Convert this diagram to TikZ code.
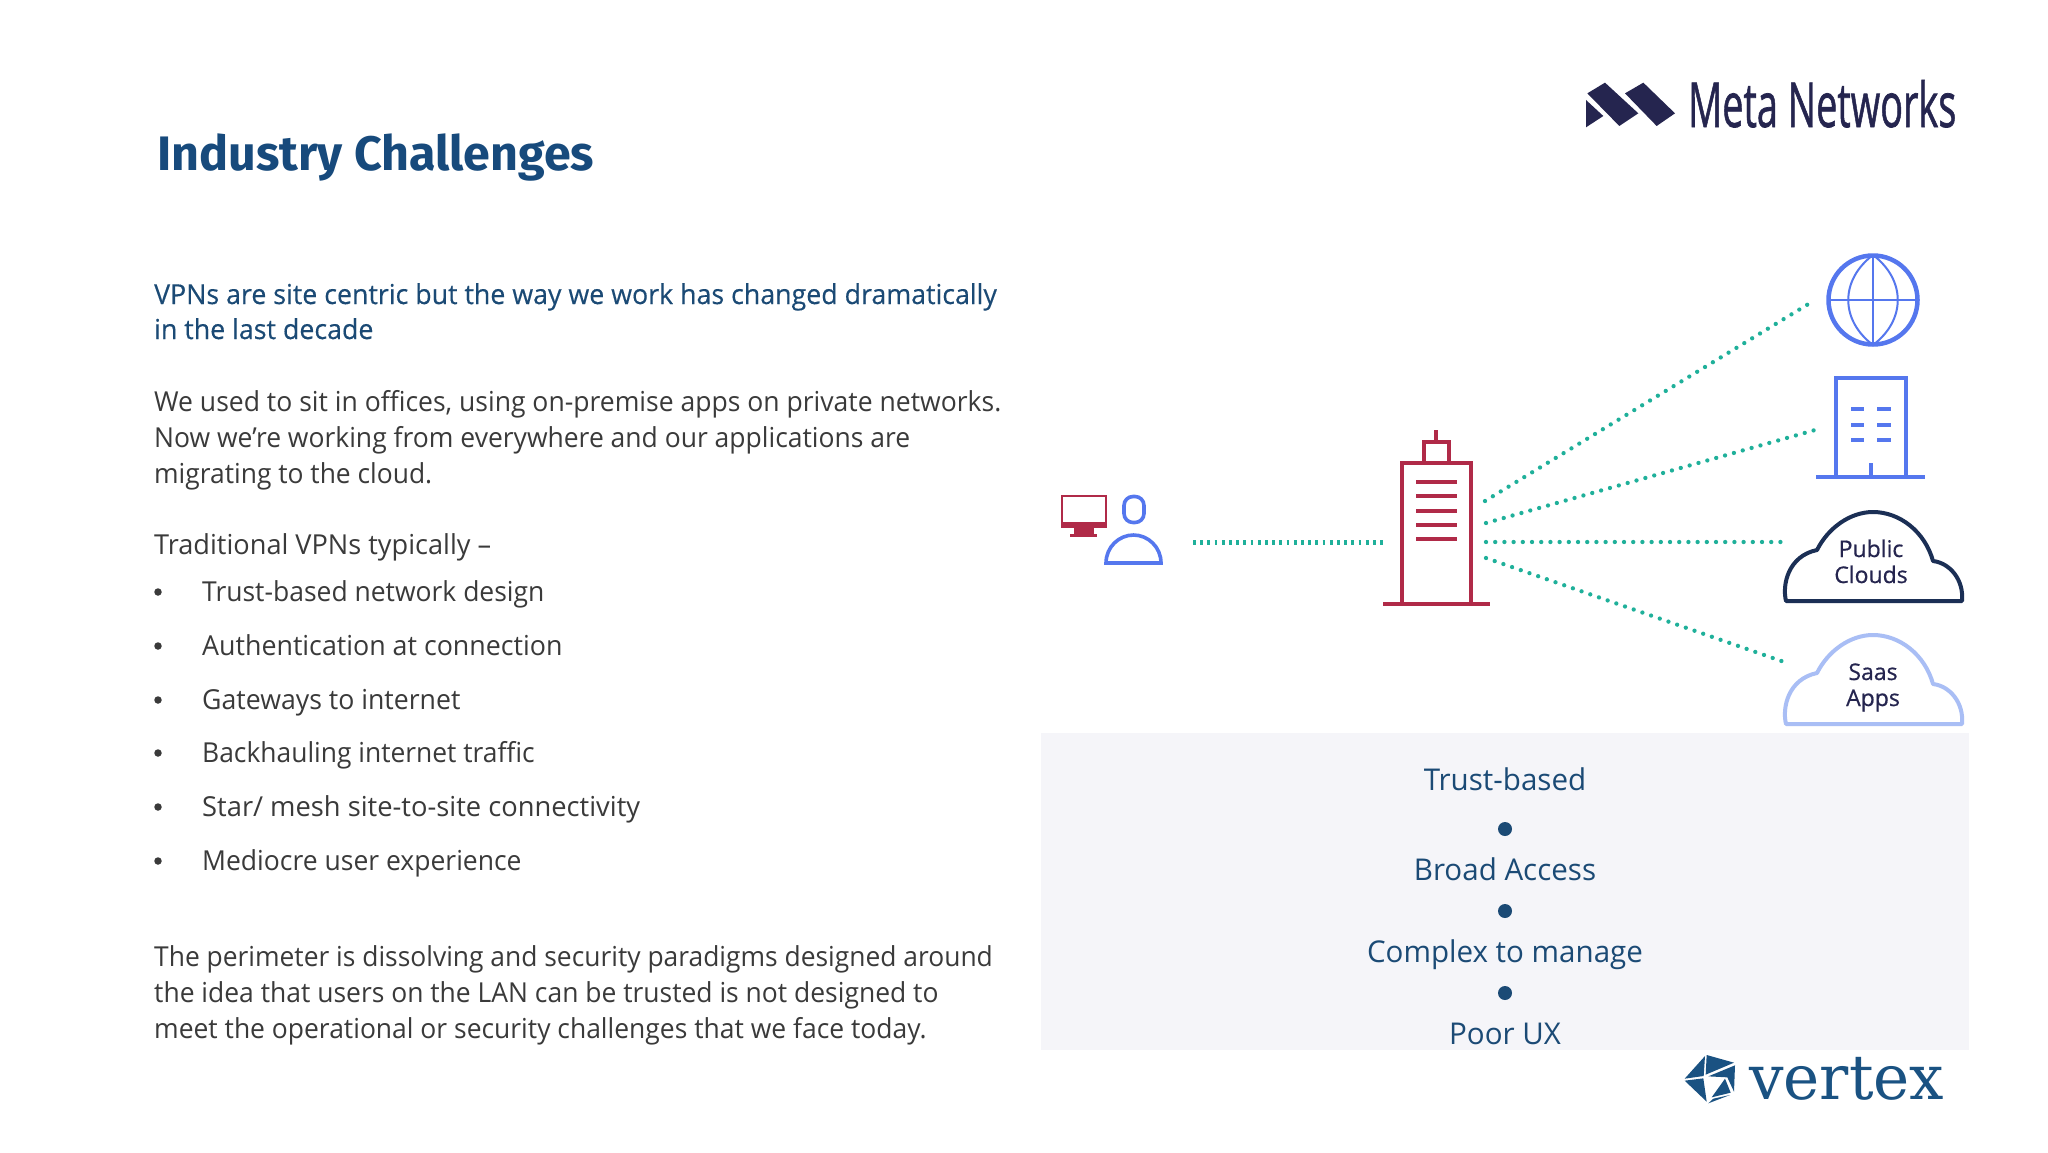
\documentclass[tikz,border=0pt]{standalone}
\usepackage{fontspec}
\setmainfont{Open Sans}
\newfontfamily\titlefont{Fira Sans}
\newfontfamily\vertexfont{DejaVu Serif}
\newfontfamily\metafont[FakeBold=1.2]{Open Sans}
\newfontfamily\cloudfont[FakeBold=0.6]{Open Sans}
\newfontfamily\leadfont[FakeBold=0.3]{Open Sans}
\definecolor{titleblue}{HTML}{174A7C}
\definecolor{leadblue}{HTML}{1B4A75}
\definecolor{bodygrey}{HTML}{3A3A3A}
\definecolor{panelgrey}{HTML}{F5F5F9}
\definecolor{teal}{HTML}{1FB09A}
\definecolor{crimson}{HTML}{B02A48}
\definecolor{iconblue}{HTML}{5577EE}
\definecolor{navy}{HTML}{1B2F55}
\definecolor{paleblue}{HTML}{A9BEF5}
\definecolor{logoink}{HTML}{25254F}
\definecolor{vertexblue}{HTML}{1A5282}
\tikzset{
  txt/.style={anchor=base west,inner sep=0pt,font=\fontsize{27.5}{36}\selectfont,text=bodygrey,xscale=.96,transform shape},
  lead/.style={anchor=base west,inner sep=0pt,font=\leadfont\fontsize{27.5}{36}\selectfont,text=leadblue,xscale=.973,transform shape},
  paneltxt/.style={anchor=base,inner sep=0pt,font=\fontsize{30}{36}\selectfont,text=leadblue,xscale=.985,transform shape},
  bul/.style={circle,fill=bodygrey,inner sep=0pt,minimum size=7.5pt},
  pdot/.style={circle,fill=leadblue,inner sep=0pt,minimum size=14pt},
  dotline/.style={teal,line width=4.3pt,line cap=round,dash pattern=on 0pt off 9.2pt},
  denseline/.style={teal,line width=5pt,dash pattern=on 2.8pt off 4.4pt},
  crim/.style={crimson,line width=3.8pt},
  ib/.style={iconblue,line width=3.6pt},
  cloudtxt/.style={anchor=base,inner sep=0pt,font=\cloudfont\fontsize{23}{28}\selectfont,text=logoink}
}
\newcommand{\cloudpath}[1]{
  \draw[#1,line width=4pt,line join=round,fill=white]
    (1786,601) .. controls (1782,585) and (1788,556) .. (1817,550)
    .. controls (1828,528) and (1850,512) .. (1873,512)
    .. controls (1900,512) and (1925,532) .. (1933,561)
    .. controls (1950,563) and (1964,580) .. (1962,601) -- cycle;
}
\begin{document}
\begin{tikzpicture}[x=1pt,y=-1pt]
\useasboundingbox (0,0) rectangle (2048,1152);
\fill[white] (0,0) rectangle (2048,1152);

% title
\node[anchor=base west,inner sep=0pt,font=\titlefont\fontsize{48.4}{50}\selectfont\bfseries,text=titleblue] (title) at (157,170) {Industry Challenges};

% left column
\node[lead] (l1) at (154,304) {VPNs are site centric but the way we work has changed dramatically};
\node[lead] (l2) at (154,339) {in the last decade};
\node[txt,xscale=1.005] (p1) at (154,411) {We used to sit in offices, using on-premise apps on private networks.};
\node[txt,xscale=1.003] (p2) at (154,447) {Now we’re working from everywhere and our applications are};
\node[txt] (p3) at (154,483) {migrating to the cloud.};
\node[txt,xscale=1.028] (p4) at (154,554) {Traditional VPNs typically –};
\foreach \n/\y/\f/\t in {a/601/1.003/{Trust-based network design},b/655/1.015/{Authentication at connection},c/709/1.01/{Gateways to internet},d/762/1/{Backhauling internet traffic},e/816/1.034/{Star/ mesh site-to-site connectivity},f/870/1.004/{Mediocre user experience}}{
  \node[bul] (b\n) at (158,\y-9) {};
  \node[txt,xscale=\f] (t\n) at (202,\y) {\t};
}
\node[txt] (q1) at (154,966) {The perimeter is dissolving and security paradigms designed around};
\node[txt,xscale=1.002] (q2) at (154,1002.5) {the idea that users on the LAN can be trusted is not designed to};
\node[txt,xscale=1.002] (q3) at (154,1038.5) {meet the operational or security challenges that we face today.};

% panel
\fill[panelgrey] (1041,733) rectangle (1969,1050);
\node[paneltxt] (k1) at (1505,790) {Trust-based};
\node[pdot] (d1) at (1505,829) {};
\node[paneltxt] (k2) at (1505,880) {Broad Access};
\node[pdot] (d2) at (1505,911) {};
\node[paneltxt] (k3) at (1505,962) {Complex to manage};
\node[pdot] (d3) at (1505,993) {};
\node[paneltxt] (k4) at (1505,1044) {Poor UX};

% user and monitor
\draw[crimson,line width=2.4pt,fill=white] (1062,496) rectangle (1106,526);
\fill[crimson] (1061,522) rectangle (1107,528);
\fill[crimson] (1074,528) rectangle (1094,534);
\fill[crimson] (1070,534) rectangle (1097,536.5);
\draw[ib,rounded corners=9pt] (1124,496.5) rectangle (1144,522.5);
\draw[ib] (1106,563) .. controls (1106,547) and (1119,535) .. (1133.5,535)
  .. controls (1148,535) and (1161,547) .. (1161,563) -- cycle;

% tower
\draw[crim] (1402,604) -- (1402,463) -- (1471,463) -- (1471,604);
\draw[crim] (1383,604) -- (1490,604);
\draw[crim] (1424,463) -- (1424,442) -- (1449,442) -- (1449,463);
\draw[crim] (1436,442) -- (1436,430);
\foreach \y in {482,496,511,525,539}{\draw[crimson,line width=4pt] (1416,\y) -- (1457,\y);}

% connectors
\coordinate (ua) at (1193,542);
\coordinate (ub) at (1385,542);
\coordinate (t1) at (1485,501);
\coordinate (e1) at (1815,300);
\coordinate (t2) at (1486,523);
\coordinate (e2) at (1815,430);
\coordinate (t3) at (1486,542);
\coordinate (e3) at (1787,542);
\coordinate (t4) at (1486,558);
\coordinate (e4) at (1790,664);
\draw[denseline] (ua) -- (ub);
\draw[dotline] (t1) -- (e1);
\draw[dotline] (t2) -- (e2);
\draw[dotline] (t3) -- (e3);
\draw[dotline] (t4) -- (e4);

% globe
\draw[iconblue,line width=4.5pt] (1873,300) circle (44.5);
\draw[iconblue,line width=2pt] (1873,255) -- (1873,345) (1828,300) -- (1918,300);
\draw[iconblue,line width=2pt] (1873,255) .. controls (1840,280) and (1840,320) .. (1873,345)
  .. controls (1906,320) and (1906,280) .. (1873,255);

% office
\draw[ib] (1836,477) -- (1836,378) -- (1906,378) -- (1906,477);
\draw[ib] (1816,477) -- (1925,477);
\draw[ib] (1871,477) -- (1871,463);
\foreach \y in {409,425,440}{
  \draw[ib] (1851,\y) -- (1864,\y);
  \draw[ib] (1877,\y) -- (1891,\y);
}

% clouds
\cloudpath{navy}
\node[cloudtxt] (pc1) at (1871,557) {Public};
\node[cloudtxt] (pc2) at (1871,583) {Clouds};
\begin{scope}[yshift=-123pt]
\cloudpath{paleblue}
\end{scope}
\node[cloudtxt] (sa1) at (1873,680) {Saas};
\node[cloudtxt] (sa2) at (1873,706) {Apps};

% Meta logo
\begin{scope}[shift={(1560,50)},x=0.3333pt,y=-0.3333pt]
\fill[logoink] (82,130) -- (135,98) -- (235,190) -- (178,228) -- cycle;
\fill[logoink] (195,130) -- (250,98) -- (345,190) -- (290,228) -- cycle;
\fill[logoink] (78,150) -- (130,198) -- (78,232) -- cycle;
\end{scope}
\node[anchor=base west,inner sep=0pt,font=\metafont\fontsize{62}{62}\selectfont,text=logoink,xscale=.61,transform shape] (meta) at (1688,127) {Meta Networks};

% vertex logo
\begin{scope}[shift={(1680,1050)},x=0.3333pt,y=-0.3333pt]
\fill[vertexblue] (14,86) -- (75,18) -- (71,78) -- cycle;
\fill[vertexblue] (80,15) -- (162,38) -- (77,74) -- cycle;
\fill[vertexblue] (165,46) -- (162,125) -- (142,82) -- (85,79) -- cycle;
\fill[vertexblue] (135,86) -- (152,128) -- (95,142) -- cycle;
\fill[vertexblue] (85,160) -- (150,135) -- (100,146) -- cycle;
\fill[vertexblue] (14,92) -- (70,85) -- (80,155) -- cycle;
\end{scope}
\node[anchor=base west,inner sep=0pt,font=\vertexfont\fontsize{62}{62}\selectfont,text=vertexblue,xscale=.985,transform shape] (vertex) at (1749,1099) {vertex};
\end{tikzpicture}
\end{document}
